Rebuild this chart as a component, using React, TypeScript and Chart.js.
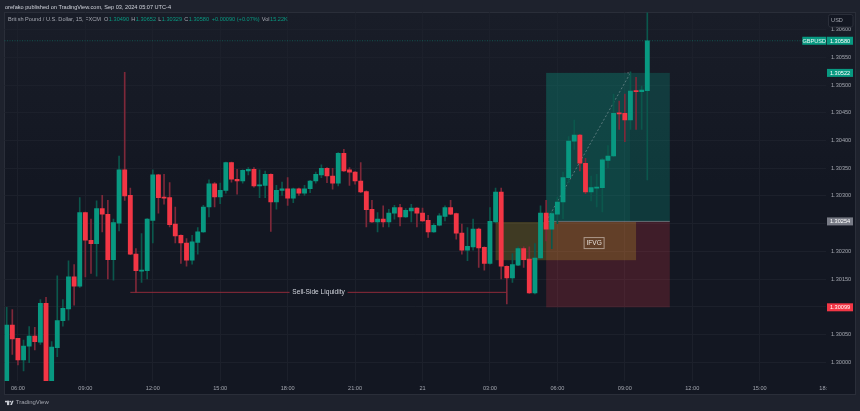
import { useEffect, useRef } from 'react';
import { Chart, registerables } from 'chart.js';

Chart.register(...registerables);

// GBPUSD 15m candles
const opens = [
  1.2996, 1.30067, 1.30043, 1.30004, 1.30029, 1.30047, 1.30036, 1.30106, 1.2996, 1.30026,
  1.30075, 1.30096, 1.30154, 1.30137, 1.3027, 1.3022, 1.30214, 1.30277, 1.30267, 1.30185,
  1.30251, 1.30347, 1.30301, 1.30195, 1.30164, 1.30165, 1.30256, 1.30338, 1.30298, 1.30297,
  1.30249, 1.30229, 1.30215, 1.30184, 1.30216, 1.30235, 1.3028, 1.30322, 1.30298, 1.3031,
  1.3036, 1.3033, 1.30327, 1.30345, 1.30348, 1.30318, 1.30319, 1.30339, 1.30289, 1.3031,
  1.30313, 1.30296, 1.30313, 1.30305, 1.30313, 1.30327, 1.30338, 1.3035, 1.30336, 1.30323,
  1.30377, 1.30347, 1.30343, 1.30327, 1.30308, 1.30276, 1.30253, 1.30258, 1.30253, 1.30269,
  1.30279, 1.30262, 1.30273, 1.30278, 1.30269, 1.30256, 1.30235, 1.30247, 1.30263, 1.30279,
  1.30268, 1.30233, 1.30202, 1.30208, 1.3024, 1.30207, 1.30178, 1.30253, 1.30307, 1.30173,
  1.30152, 1.30175, 1.30205, 1.30186, 1.30125, 1.30188, 1.30269, 1.3024, 1.30267, 1.30289,
  1.30333, 1.30399, 1.3041, 1.30359, 1.30307, 1.30314, 1.30315, 1.30364, 1.30372, 1.3045,
  1.30449, 1.30437, 1.3049, 1.30488, 1.3049,
];
const closes = [
  1.30067, 1.30042, 1.30004, 1.30029, 1.30047, 1.30037, 1.30106, 1.2996, 1.30027, 1.30075,
  1.30097, 1.30154, 1.30137, 1.3027, 1.3022, 1.30214, 1.30277, 1.30267, 1.30185, 1.30252,
  1.30347, 1.303, 1.30195, 1.30165, 1.30166, 1.30258, 1.30338, 1.30297, 1.30296, 1.30248,
  1.30228, 1.30215, 1.30184, 1.30217, 1.30235, 1.3028, 1.30322, 1.30298, 1.3031, 1.3036,
  1.3033, 1.30327, 1.30346, 1.30348, 1.30318, 1.3032, 1.30339, 1.30289, 1.3031, 1.30313,
  1.30296, 1.30313, 1.30305, 1.30313, 1.30327, 1.30339, 1.3035, 1.30336, 1.30323, 1.30377,
  1.30345, 1.30343, 1.30327, 1.30307, 1.30275, 1.30253, 1.30258, 1.30253, 1.30269, 1.30279,
  1.30262, 1.30274, 1.30278, 1.30269, 1.30255, 1.30235, 1.30247, 1.30264, 1.30279, 1.30267,
  1.30233, 1.30202, 1.30209, 1.3024, 1.30206, 1.30178, 1.30254, 1.30307, 1.30173, 1.30152,
  1.30176, 1.30205, 1.30185, 1.30125, 1.30188, 1.30269, 1.3024, 1.30268, 1.30289, 1.30333,
  1.30399, 1.3041, 1.30359, 1.30307, 1.30315, 1.30316, 1.30365, 1.30372, 1.30449, 1.30448,
  1.30437, 1.30489, 1.30488, 1.30491, 1.3058,
];
const highs = [
  1.30099, 1.30095, 1.30043, 1.3004, 1.30064, 1.30063, 1.30113, 1.30117, 1.30037, 1.30156,
  1.30113, 1.30183, 1.30176, 1.30297, 1.30271, 1.30258, 1.30291, 1.30301, 1.30292, 1.30258,
  1.30372, 1.30523, 1.30314, 1.30205, 1.30232, 1.30259, 1.30347, 1.30339, 1.30339, 1.30324,
  1.3028, 1.3023, 1.30223, 1.30229, 1.30243, 1.30283, 1.30329, 1.30324, 1.30323, 1.30361,
  1.30361, 1.30348, 1.30347, 1.30351, 1.30351, 1.30347, 1.30345, 1.3034, 1.30319, 1.30325,
  1.30333, 1.30314, 1.30314, 1.30319, 1.30328, 1.30343, 1.30356, 1.30351, 1.3035, 1.30378,
  1.30384, 1.30351, 1.30344, 1.3036, 1.30309, 1.30292, 1.3027, 1.30282, 1.30276, 1.30283,
  1.30285, 1.30277, 1.30285, 1.30279, 1.30278, 1.30265, 1.3025, 1.30268, 1.30282, 1.30292,
  1.30269, 1.30249, 1.30243, 1.30258, 1.30242, 1.30208, 1.30279, 1.30314, 1.30314, 1.30174,
  1.30196, 1.30208, 1.30208, 1.30208, 1.30214, 1.30282, 1.30292, 1.30272, 1.30298, 1.30343,
  1.30407, 1.30437, 1.30411, 1.30368, 1.30336, 1.30339, 1.30368, 1.30391, 1.30484, 1.30471,
  1.30484, 1.30524, 1.30514, 1.30498, 1.30652,
];
const lows = [
  1.2995, 1.30014, 1.29995, 1.29984, 1.29999, 1.30022, 1.30032, 1.2995, 1.2995, 1.3001,
  1.30065, 1.30076, 1.30103, 1.30135, 1.30154, 1.3016, 1.30155, 1.30235, 1.3015, 1.30148,
  1.30237, 1.30292, 1.30194, 1.30126, 1.30144, 1.3015, 1.30215, 1.30269, 1.30285, 1.30244,
  1.30215, 1.30178, 1.30173, 1.30177, 1.30195, 1.30234, 1.30262, 1.3028, 1.30286, 1.30305,
  1.30325, 1.30303, 1.30323, 1.30338, 1.30316, 1.30297, 1.30297, 1.30236, 1.30276, 1.30301,
  1.30283, 1.30288, 1.30301, 1.30301, 1.30306, 1.30323, 1.30333, 1.30324, 1.30312, 1.30318,
  1.30344, 1.30319, 1.30321, 1.30306, 1.30244, 1.30252, 1.30235, 1.30244, 1.30244, 1.30258,
  1.30246, 1.30261, 1.30253, 1.30244, 1.30254, 1.30225, 1.30234, 1.30246, 1.30255, 1.30266,
  1.30222, 1.30195, 1.30183, 1.30202, 1.30171, 1.30166, 1.30177, 1.30252, 1.3015, 1.30105,
  1.30144, 1.30174, 1.30171, 1.30124, 1.30123, 1.30187, 1.30219, 1.30205, 1.3025, 1.30259,
  1.30324, 1.30384, 1.30345, 1.30304, 1.30291, 1.3028, 1.30271, 1.3035, 1.30371, 1.3042,
  1.30398, 1.3042, 1.3042, 1.3042, 1.30329,
];

// axis ticks: bar index of each label. "18:" is the 18:00 label cut by the price axis
const timeTickIndexes = [2, 14, 26, 38, 50, 62, 74, 86, 98, 110, 122, 134, 145.3];
const timeTickLabels = ['06:00', '09:00', '12:00', '15:00', '18:00', '21:00', '21', '03:00', '06:00', '09:00', '12:00', '15:00', '18:'];
const priceTicks = [1.3, 1.3005, 1.301, 1.3015, 1.302, 1.3025, 1.303, 1.3035, 1.304, 1.3045, 1.305, 1.3055, 1.306];

// long position + drawings
const takeProfit = 1.30522;
const entryPrice = 1.30254;
const stopLoss = 1.30099;
const lastPrice = 1.3058;
const positionBars = [96, 111, 118];
const ifvgBars = [87, 112];
const ifvgPrices = [1.30253, 1.30184];
const liquidityBars = [22, 89];
const liquidityPrice = 1.30126;

const headerText = 'orefako published on TradingView.com, Sep 03, 2024 05:07 UTC-4';
const symbolText = 'British Pound / U.S. Dollar, 15, FXCM';
const ohlcLegend = [
  ['O', '1.30490'],
  ['H', '1.30652'],
  ['L', '1.30329'],
  ['C', '1.30580'],
  ['', '+0.00090 (+0.07%)'],
  ['Vol', '15.22K'],
];

const UP = '#089981';
const DOWN = '#f23645';
const UP_WICK = '#0b574c';
const DOWN_WICK = '#7e2839';
const TEXT = '#a3a6af';
const FONT = '"Liberation Sans", sans-serif';
const SMALL = 5.6;

const barColors = (up: string, down: string) => closes.map((c, i) => (c >= opens[i] ? up : down));

const drawings = {
  id: 'drawings',
  beforeDraw(chart: Chart) {
    const { ctx, chartArea: a } = chart;
    const frame = { x: 4.5, y: 12.5, w: 851, h: 382 };
    const g = ctx.createLinearGradient(0, frame.y, 0, frame.y + 170);
    g.addColorStop(0, '#191d28');
    g.addColorStop(1, '#131722');
    ctx.fillStyle = g;
    ctx.fillRect(frame.x, frame.y, frame.w, frame.h);
    ctx.strokeStyle = '#2a2e39';
    ctx.lineWidth = 1;
    ctx.strokeRect(frame.x, frame.y, frame.w, frame.h);
    ctx.font = `${SMALL}px ${FONT}`;
    ctx.textBaseline = 'middle';
    ctx.fillStyle = '#d1d4dc';
    ctx.fillText(headerText, 5, 7);
    ctx.fillStyle = TEXT;
    ctx.fillText(symbolText, a.left + 3.5, 19.7);
  },
  beforeDatasetsDraw(chart: Chart) {
    const { ctx } = chart;
    const x = chart.scales.x;
    const y = chart.scales.y;
    const left = x.getPixelForValue(positionBars[0]);
    const mid = x.getPixelForValue(positionBars[1]);
    const right = x.getPixelForValue(positionBars[2]);
    const tp = y.getPixelForValue(takeProfit);
    const en = y.getPixelForValue(entryPrice);
    const sl = y.getPixelForValue(stopLoss);

    ctx.save();
    ctx.fillStyle = 'rgba(8,153,129,0.35)';
    ctx.fillRect(left, tp, mid - left, en - tp);
    ctx.fillStyle = 'rgba(8,153,129,0.27)';
    ctx.fillRect(mid, tp, right - mid, en - tp);
    ctx.fillStyle = 'rgba(242,54,69,0.2)';
    ctx.fillRect(left, en, right - left, sl - en);

    // ifvg zone
    const fx0 = x.getPixelForValue(ifvgBars[0]);
    const fx1 = x.getPixelForValue(ifvgBars[1]);
    const fy0 = y.getPixelForValue(ifvgPrices[0]);
    const fy1 = y.getPixelForValue(ifvgPrices[1]);
    ctx.fillStyle = 'rgba(240,200,40,0.2)';
    ctx.fillRect(fx0, fy0, fx1 - fx0, fy1 - fy0);

    ctx.strokeStyle = 'rgba(120,135,140,0.75)';
    ctx.lineWidth = 1;
    ctx.beginPath();
    ctx.moveTo(left, en);
    ctx.lineTo(right, en);
    ctx.stroke();

    // dashed path of the position
    ctx.strokeStyle = 'rgba(175,185,190,0.45)';
    ctx.setLineDash([2, 2]);
    ctx.beginPath();
    ctx.moveTo(left, en);
    ctx.lineTo(mid, tp);
    ctx.lineTo(x.getPixelForValue(positionBars[1] - 1), tp);
    ctx.stroke();
    ctx.restore();
  },
  afterDatasetsDraw(chart: Chart) {
    const { ctx, chartArea: a } = chart;
    const x = chart.scales.x;
    const y = chart.scales.y;

    ctx.save();
    // last price line
    const ly = y.getPixelForValue(lastPrice);
    ctx.strokeStyle = 'rgba(8,153,129,0.45)';
    ctx.lineWidth = 1;
    ctx.setLineDash([1, 1.5]);
    ctx.beginPath();
    ctx.moveTo(a.left, ly);
    ctx.lineTo(a.right, ly);
    ctx.stroke();
    ctx.setLineDash([]);

    // sell-side liquidity, line broken around the text
    const sy = y.getPixelForValue(liquidityPrice);
    const sx0 = x.getPixelForValue(liquidityBars[0]);
    const sx1 = x.getPixelForValue(liquidityBars[1]);
    const cx = (sx0 + sx1) / 2;
    ctx.strokeStyle = '#8f2b3a';
    ctx.beginPath();
    ctx.moveTo(sx0, sy);
    ctx.lineTo(cx - 29, sy);
    ctx.moveTo(cx + 29, sy);
    ctx.lineTo(sx1, sy);
    ctx.stroke();
    ctx.fillStyle = '#d1d4dc';
    ctx.font = `6.6px ${FONT}`;
    ctx.textAlign = 'center';
    ctx.textBaseline = 'middle';
    ctx.fillText('Sell-Side Liquidity', cx, sy);

    // ifvg label
    const lx = (x.getPixelForValue(positionBars[0]) + x.getPixelForValue(ifvgBars[1])) / 2 + 3;
    const lyy = (y.getPixelForValue(ifvgPrices[0]) + y.getPixelForValue(ifvgPrices[1])) / 2 + 2;
    ctx.strokeStyle = 'rgba(235,225,220,0.55)';
    ctx.strokeRect(lx - 10, lyy - 5.5, 20, 11);
    ctx.fillStyle = '#e6dfda';
    ctx.fillText('IFVG', lx, lyy);
    ctx.restore();
  },
  afterDraw(chart: Chart) {
    const { ctx, chartArea: a } = chart;
    const y = chart.scales.y;
    ctx.save();
    ctx.font = `${SMALL}px ${FONT}`;
    ctx.textBaseline = 'middle';

    // ohlc legend
    let cursor = 104;
    for (const [name, value] of ohlcLegend) {
      ctx.fillStyle = TEXT;
      ctx.fillText(name, cursor, 19.7);
      cursor += ctx.measureText(name).width + 0.5;
      ctx.fillStyle = UP;
      ctx.fillText(value, cursor, 19.7);
      cursor += ctx.measureText(value).width + 2.2;
    }

    // price tags
    const tags: [number, string][] = [
      [lastPrice, UP],
      [takeProfit, UP],
      [entryPrice, '#787b86'],
      [stopLoss, DOWN],
    ];
    ctx.textAlign = 'center';
    for (const [price, color] of tags) {
      const py = y.getPixelForValue(price);
      ctx.fillStyle = color;
      ctx.fillRect(a.right + 1, py - 4, 26, 8);
      ctx.fillStyle = '#ffffff';
      ctx.fillText(price.toFixed(5), a.right + 14, py + 0.3);
    }
    const py = y.getPixelForValue(lastPrice);
    ctx.fillStyle = UP;
    ctx.fillRect(a.right - 23.7, py - 4, 24, 8);
    ctx.fillStyle = '#e8f5f2';
    ctx.fillText('GBPUSD', a.right - 11.7, py + 0.3);

    // currency button
    ctx.fillStyle = '#131722';
    ctx.strokeStyle = '#2a2e39';
    ctx.beginPath();
    ctx.roundRect(828.5, 14.5, 24.5, 12.5, 2);
    ctx.fill();
    ctx.stroke();
    ctx.fillStyle = TEXT;
    ctx.fillText('USD', 837, 20.8);

    // footer mark
    ctx.fillStyle = '#c8cbd3';
    ctx.fillRect(5, 400.8, 4.2, 1.5);
    ctx.fillRect(7, 400.8, 2.2, 4.3);
    ctx.beginPath();
    ctx.arc(10.3, 401.6, 0.8, 0, Math.PI * 2);
    ctx.fill();
    ctx.beginPath();
    ctx.moveTo(12, 400.8);
    ctx.lineTo(13.6, 400.8);
    ctx.lineTo(11.9, 405.1);
    ctx.lineTo(10.2, 405.1);
    ctx.fill();
    ctx.textAlign = 'left';
    ctx.font = `6px ${FONT}`;
    ctx.fillStyle = TEXT;
    ctx.fillText('TradingView', 15.7, 402.8);
    ctx.restore();
  },
};

export default function App() {
  const canvasRef = useRef<HTMLCanvasElement>(null);

  useEffect(() => {
    if (!canvasRef.current) return;

    const chart = new Chart(canvasRef.current, {
      type: 'bar',
      data: {
        datasets: [
          {
            label: 'body',
            data: opens.map((o, i) => ({ x: i, y: [o, closes[i]] })),
            backgroundColor: barColors(UP, DOWN),
            barThickness: 4.2,
            grouped: false,
            order: 1,
          },
          {
            label: 'wick',
            data: lows.map((l, i) => ({ x: i, y: [l, highs[i]] })),
            backgroundColor: barColors(UP_WICK, DOWN_WICK),
            barThickness: 1,
            grouped: false,
            order: 2,
          },
        ] as any,
      },
      options: {
        responsive: false,
        animation: false,
        layout: { padding: { left: 4.5, top: 12.5, right: 4, bottom: 17 } },
        plugins: { legend: { display: false }, tooltip: { enabled: false } },
        scales: {
          x: {
            type: 'linear',
            offset: false,
            min: -0.39,
            max: 145.8,
            afterBuildTicks: (scale) => {
              scale.ticks = timeTickIndexes.map((value) => ({ value }));
            },
            afterFit: (scale) => {
              scale.height = 13;
            },
            border: { display: false },
            grid: {
              offset: false,
              drawTicks: false,
              color: (c) => (c.index === timeTickIndexes.length - 1 ? 'transparent' : '#1c202b'),
            },
            ticks: {
              autoSkip: false,
              maxRotation: 0,
              padding: 4,
              color: TEXT,
              font: { family: FONT, size: SMALL },
              callback: (_v, i) => timeTickLabels[i],
            },
          },
          y: {
            position: 'right',
            min: 1.29966,
            max: 1.30631,
            afterBuildTicks: (scale) => {
              scale.ticks = priceTicks.map((value) => ({ value }));
            },
            afterFit: (scale) => {
              scale.width = 30;
            },
            border: { display: false },
            grid: { drawTicks: false, color: '#1c202b' },
            ticks: {
              padding: 5,
              color: TEXT,
              font: { family: FONT, size: SMALL },
              callback: (v) => Number(v).toFixed(5),
            },
          },
        },
      },
      plugins: [drawings],
    });

    return () => chart.destroy();
  }, []);

  return (
    <div style={{ position: 'absolute', left: 0, top: 0, width: 860, height: 411, background: '#1e222d' }}>
      <canvas ref={canvasRef} width={860} height={411} style={{ display: 'block' }} />
    </div>
  );
}
